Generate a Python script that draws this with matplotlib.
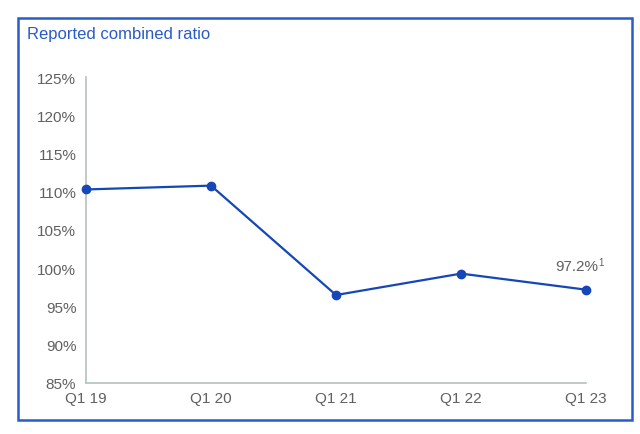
import matplotlib
matplotlib.use("Agg")
import matplotlib.pyplot as plt
from matplotlib.patches import Rectangle

categories = ["Q1 19", "Q1 20", "Q1 21", "Q1 22", "Q1 23"]
values = [110.3, 110.8, 96.5, 99.3, 97.2]
yticks = [85, 90, 95, 100, 105, 110, 115, 120, 125]
ytick_labels = [f"{v}%" for v in yticks]

plt.rcParams['font.family'] = ['Liberation Sans', 'DejaVu Sans']

W, H = 640, 435
fig = plt.figure(figsize=(W / 100, H / 100), dpi=100)

blue = "#2a5bc8"
line_blue = "#1547b8"
grey_text = "#606060"
spine_col = "#b8c0c0"

# border
fig.patches.append(Rectangle((18 / W, 1 - 421 / H), (632 - 18) / W, (421 - 19) / H,
                             transform=fig.transFigure, fill=False,
                             edgecolor=blue, linewidth=1.8))

fig.text(27 / W, 1 - 35 / H, "Reported combined ratio", color=blue,
         fontsize=12, va="center", ha="left")

ax = fig.add_axes([86 / W, 1 - 384 / H, 500 / W, (384 - 78) / H])
x = list(range(len(categories)))
ax.plot(x, values, color=line_blue, linewidth=1.6, marker="o", markersize=6,
        clip_on=False, zorder=3)
ax.set_xlim(0, 4)
ax.set_ylim(85, 125)
ax.set_xticks(x)
ax.set_xticklabels(categories)
ax.set_yticks(yticks)
ax.set_yticklabels(ytick_labels)
ax.tick_params(length=0, labelsize=11, labelcolor=grey_text)
ax.tick_params(axis="y", pad=7)
ax.tick_params(axis="x", pad=6)
for s in ["top", "right"]:
    ax.spines[s].set_visible(False)
for s in ["left", "bottom"]:
    ax.spines[s].set_color(spine_col)
    ax.spines[s].set_linewidth(1.2)

ax.annotate("97.2%", (x[-1], values[-1]), xytext=(-7, 12),
            textcoords="offset points", ha="center", va="bottom",
            color=grey_text, fontsize=11)
ax.annotate("1", (x[-1], values[-1]), xytext=(9, 16),
            textcoords="offset points", ha="left", va="bottom",
            color=grey_text, fontsize=7)

fig.savefig("out.png", dpi=100)
